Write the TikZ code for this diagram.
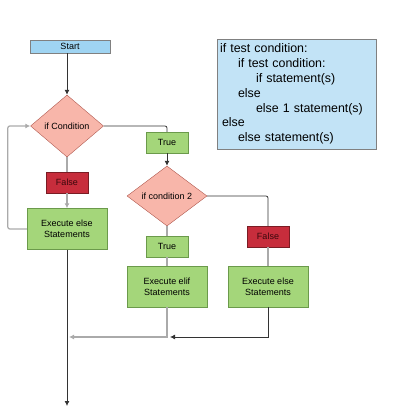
\documentclass[tikz,border=0pt]{standalone}
\usepackage{fontspec}
\setmainfont{Liberation Sans}
\usetikzlibrary{shapes.geometric,arrows.meta}

\definecolor{startblue}{HTML}{9FD4F2}
\definecolor{codeblue}{HTML}{C2E3F6}
\definecolor{condpink}{HTML}{F8B6AA}
\definecolor{condline}{HTML}{B05A50}
\definecolor{boxgreen}{HTML}{A4D67A}
\definecolor{greenline}{HTML}{6B9A4B}
\definecolor{falsered}{HTML}{C72D3C}
\definecolor{redline}{HTML}{7A1C24}
\definecolor{falsetext}{HTML}{3A080C}
\definecolor{lightline}{HTML}{AAAAAA}
\definecolor{darkline}{HTML}{333333}

\begin{document}
\begin{tikzpicture}[x=1pt, y=-1pt,
  every node/.style={font=\fontsize{9}{10.7}\selectfont, align=center, inner sep=0pt},
  startbox/.style={draw=gray, fill=startblue, minimum width=80pt, minimum height=13pt},
  decision/.style={diamond, draw=condline, fill=condpink, minimum width=#1},
  decision/.default=73pt,
  truebox/.style={draw=greenline, fill=boxgreen, minimum width=42pt, minimum height=21pt},
  falsebox/.style={draw=redline, fill=falsered, text=falsetext, minimum width=42pt, minimum height=21pt},
  execbox/.style={draw=greenline, fill=boxgreen, minimum width=80pt, minimum height=41pt},
  codebox/.style={draw=gray, fill=codeblue, minimum width=159pt, minimum height=110pt,
    text width=153pt, align=left, inner sep=3pt, font=\fontsize{12.4}{14.8}\selectfont},
  thin line/.style={lightline, line width=1.2pt},
  dark line/.style={darkline, line width=0.8pt},
  arr/.style={-{Latex[length=5pt,width=5pt]}}]

\useasboundingbox (0,0) rectangle (412,411);

% -------- boxes -----------
\node [startbox]                  (start) at (70,46.5)   {Start};
\node [decision, minimum height=62pt] (cond1) at (67,126) {if Condition};
\node [falsebox]                  (false1) at (67,182.5) {False};
\node [execbox]                   (exec1) at (67,229)    {Execute else\\Statements};
\node [truebox]                   (true1) at (167,142.5) {True};
\node [decision=80pt, minimum height=60pt] (cond2) at (167,196) {if condition 2};
\node [truebox]                   (true2) at (167,246.5) {True};
\node [execbox]                   (elif) at (167,286.5)  {Execute elif\\Statements};
\node [falsebox]                  (false2) at (268,236.5) {False};
\node [execbox]                   (else2) at (268,286.5) {Execute else\\Statements};

\node [codebox] (code) at (296.5,94) {if test condition:\\
\hspace*{18pt}if test condition:\\
\hspace*{36pt}if statement(s)\\
\hspace*{18pt}else\\
\hspace*{36pt}else 1 statement(s)\\
\hspace*{2pt}else\\
\hspace*{18pt}else statement(s)};

\coordinate (join)  at (170,337);
\coordinate (merge) at (69,337);
\coordinate (stop)  at (67,406);

% -------- connectors -----------
\draw [dark line,arr] (start.south -| cond1.north) -- (cond1.north);
\draw [thin line] (cond1) -- (false1);
\draw [thin line,arr] (false1) -- (exec1);
\draw [thin line,arr,rounded corners=2pt] (exec1.west) -- ++(-19,0) |- (cond1.west);
\draw [dark line,rounded corners=2pt] (cond1.east) -| (true1.north);
\draw [dark line,arr] (true1) -- (cond2);
\draw [thin line] (cond2) -- (true2);
\draw [thin line] (true2) -- (elif);
\draw [dark line,rounded corners=2pt] (cond2.east) -| (false2.north);
\draw [thin line] (false2) -- (else2);
\draw [dark line,arr] (else2.south) |- (join);
\draw [thin line,arr] (elif.south) |- (merge);
\draw [dark line,arr] (exec1) -- (stop);

\end{tikzpicture}
\end{document}
